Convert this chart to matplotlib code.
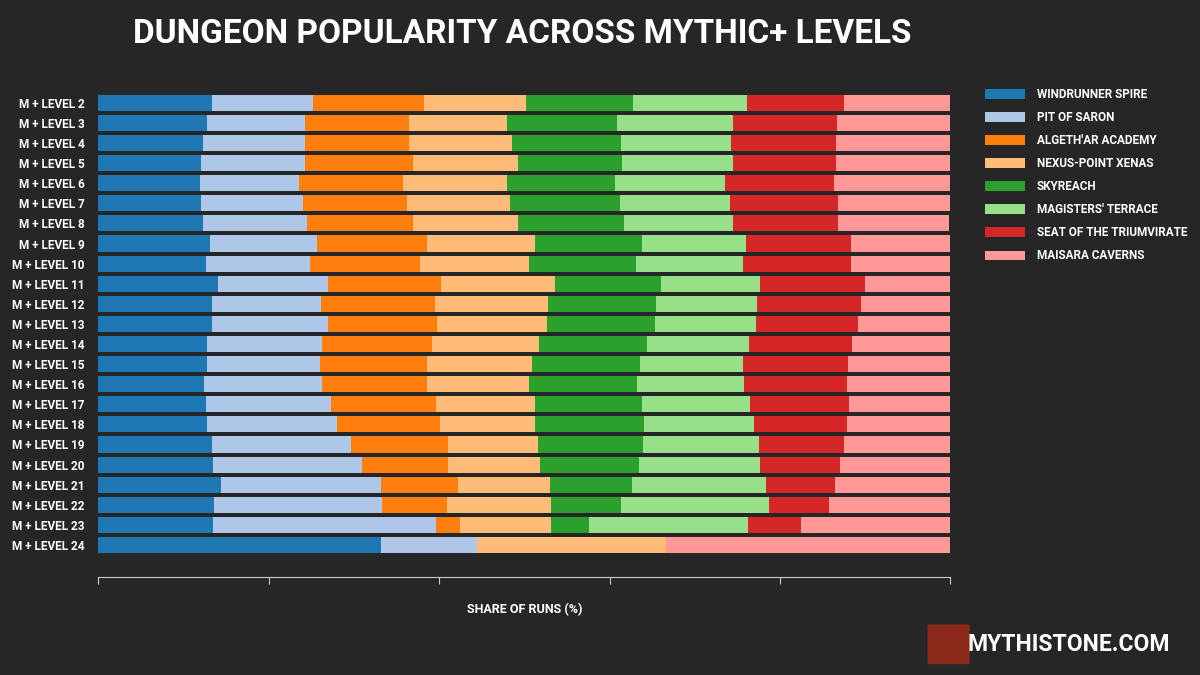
import matplotlib
matplotlib.use("Agg")
import matplotlib.pyplot as plt
import numpy as np
from matplotlib import font_manager as fm

names = {f.name for f in fm.fontManager.ttflist}
FONT = ['Liberation Sans Narrow', 'DejaVu Sans'] if 'Liberation Sans Narrow' in names else ['Roboto', 'DejaVu Sans']

levels = [f"M + LEVEL {i}" for i in range(2, 25)]
dungeons = ["WINDRUNNER SPIRE", "PIT OF SARON", "ALGETH'AR ACADEMY", "NEXUS-POINT XENAS",
            "SKYREACH", "MAGISTERS' TERRACE", "SEAT OF THE TRIUMVIRATE", "MAISARA CAVERNS"]
colors = ["#1f77b4", "#aec7e8", "#ff7f0e", "#ffbb78", "#2ca02c", "#98df8a", "#d62728", "#ff9896"]

windrunner = [13.3,12.7,12.3,12.0,11.9,12.0,12.3,13.1,12.6,14.0,13.3,13.3,12.8,12.7,12.4,12.6,12.7,13.3,13.4,14.4,13.6,13.5,33.2]
pit        = [11.9,11.6,11.9,12.2,11.7,12.0,12.2,12.6,12.2,12.9,12.8,13.7,13.5,13.3,13.8,14.7,15.3,16.3,17.5,18.8,19.7,26.1,11.2]
academy    = [13.0,12.2,12.2,12.7,12.2,12.2,12.4,12.9,12.9,13.3,13.4,12.7,12.8,12.6,12.4,12.3,12.1,11.4,10.1,9.0,7.6,2.8,0.0]
nexus      = [12.0,11.5,12.2,12.3,12.2,12.1,12.4,12.6,12.8,13.4,13.3,12.9,12.6,12.3,11.9,11.6,11.2,10.6,10.8,10.8,12.2,10.7,22.2]
skyreach   = [12.6,12.9,12.7,12.3,12.6,12.9,12.4,12.6,12.6,12.4,12.6,12.7,12.7,12.7,12.7,12.6,12.7,12.3,11.6,9.6,8.2,4.5,0.0]
magisters  = [13.3,13.6,13.0,13.0,12.9,12.9,12.8,12.2,12.6,11.7,11.9,11.9,12.0,12.1,12.6,12.7,12.9,13.6,14.3,15.8,17.4,18.7,0.0]
seat       = [11.4,12.2,12.3,12.1,12.8,12.7,12.3,12.3,12.6,12.3,12.2,12.0,12.1,12.3,12.1,11.6,11.0,10.0,9.3,8.1,7.0,6.2,0.0]
maisara    = [12.7,13.3,13.4,13.4,13.7,13.3,13.0,11.7,11.9,10.0,10.7,10.9,11.4,12.1,12.1,12.0,12.2,12.6,13.0,13.4,14.2,17.6,33.5]
series = [windrunner, pit, academy, nexus, skyreach, magisters, seat, maisara]

BG = "#262626"
fig = plt.figure(figsize=(12, 6.75), dpi=100, facecolor=BG)
ax = fig.add_axes([0.082, 0.145, 0.71, 0.725], facecolor=BG)
y = np.arange(len(levels))
left = np.zeros(len(levels))
for name, vals, c in zip(dungeons, series, colors):
    v = np.array(vals)
    ax.barh(y, v, left=left, height=0.8, color=c, label=name, linewidth=0)
    left += v
ax.set_ylim(len(levels) - 1 + 1.6, -0.75)
ax.set_xlim(0, 100)
ax.set_yticks(y)
ax.set_yticklabels(levels, fontfamily=FONT, fontweight='bold', fontsize=8.5, color='white')
ax.set_xticks(np.arange(0, 101, 20))
ax.set_xticklabels([])
ax.tick_params(axis='y', length=0, pad=10)
ax.tick_params(axis='x', colors='#cccccc', length=5)
for s in ['top', 'right', 'left']:
    ax.spines[s].set_visible(False)
ax.spines['bottom'].set_color('#cccccc')
ax.set_xlabel("SHARE OF RUNS (%)", fontfamily=FONT, fontweight='bold', fontsize=9, color='white', labelpad=10)

fig.text(0.435, 0.95, "DUNGEON POPULARITY ACROSS MYTHIC+ LEVELS", ha='center', va='center',
         fontfamily=FONT, fontweight='bold', fontsize=24, color='white')

leg = fig.legend(loc='upper left', bbox_to_anchor=(0.812, 0.885), frameon=False,
                 prop={'family': FONT, 'weight': 'bold', 'size': 8.5}, labelcolor='white',
                 handlelength=3.4, handleheight=0.9, labelspacing=0.85, handletextpad=1.0)

fig.patches.append(matplotlib.patches.FancyBboxPatch((0.775, 0.018), 0.031, 0.055, boxstyle="round,pad=0.002",
                   transform=fig.transFigure, facecolor="#8b2a1a", edgecolor="none"))
fig.text(0.975, 0.045, "MYTHISTONE.COM", ha='right', va='center', fontfamily=FONT,
         fontweight='bold', fontsize=16.5, color='white')
fig.savefig("out.png", dpi=100, facecolor=BG)
